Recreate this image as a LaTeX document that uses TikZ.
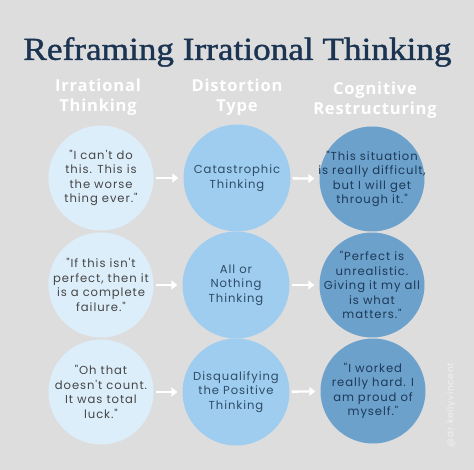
\documentclass[tikz,border=0pt]{standalone}
\usepackage{fontspec}
\setmainfont{Poppins}
\newfontfamily\titlefont[FakeBold=1.2,FakeStretch=1.1]{Liberation Serif}
\newfontfamily\headfont[LetterSpace=5]{Open Sans}
\newfontfamily\bodyfont[LetterSpace=8]{Poppins}
\usetikzlibrary{arrows.meta}
\definecolor{bg}{HTML}{DDDDDD}
\definecolor{titlecol}{HTML}{1B3452}
\definecolor{fillA}{HTML}{DDEEFB}
\definecolor{fillB}{HTML}{9FCDF0}
\definecolor{fillC}{HTML}{6CA1CB}
\definecolor{txtA}{HTML}{454545}
\definecolor{txtB}{HTML}{2E4B66}
\definecolor{txtC}{HTML}{1D3957}
\tikzset{
  blob/.style={circle, minimum size=#1, inner sep=0pt},
  blobA/.style={blob=105pt, fill=fillA},
  blobB/.style={blob=107pt, fill=fillB},
  blobC/.style={blob=105pt, fill=fillC},
  words/.style={align=center, inner sep=0pt, font=\bodyfont\fontsize{11.6}{14.5}\selectfont},
  wA/.style={words, text=txtA},
  wB/.style={words, text=txtB},
  wC/.style={words, text=txtC},
  head/.style={align=center, inner sep=0pt, text=white, font=\headfont\bfseries\fontsize{16.5}{20}\selectfont},
  arr/.style={draw=white, line width=2.4pt, -{Triangle[length=6pt,width=9pt]}, shorten <=2pt, shorten >=5pt},
}
\begin{document}
\begin{tikzpicture}[x=1pt,y=-1pt]
\fill[bg] (0,0) rectangle (474,470);
\useasboundingbox (0,0) rectangle (474,470);
\node[text=titlecol, inner sep=0pt, font=\titlefont\fontsize{32}{32}\selectfont] (title) at (237.5,52) {Reframing Irrational Thinking};
\node[head] (h1) at (98,97) {Irrational\\Thinking};
\node[head] (h2) at (237,97) {Distortion\\Type};
\node[head] (h3) at (375,100) {Cognitive\\Restructuring};
% circles
\node[blobA] (a1) at (101,178) {};
\node[blobB] (b1) at (237,178) {};
\node[blobC] (c1) at (372,179) {};
\node[blobA] (a2) at (101,285) {};
\node[blobB] (b2) at (236,285) {};
\node[blobC] (c2) at (372,285) {};
\node[blobA] (a3) at (101,392) {};
\node[blobB] (b3) at (236,392) {};
\node[blobC] (c3) at (373,391) {};
% texts
\node[wA] (ta1) at (a1) {"I can't do\\this. This is\\the worse\\thing ever."};
\node[wB] (tb1) at (b1) {Catastrophic\\Thinking};
\node[wC] (tc1) at (c1) {"This situation\\is really difficult,\\but I will get\\through it."};
\node[wA] (ta2) at (a2) {"If this isn't\\perfect, then it\\is a complete\\failure."};
\node[wB] (tb2) at (b2) {All or\\Nothing\\Thinking};
\node[wC] (tc2) at (c2) {"Perfect is\\unrealistic.\\Giving it my all\\is what\\matters."};
\node[wA] (ta3) at (a3) {"Oh that\\doesn't count.\\It was total\\luck."};
\node[wB] (tb3) at (b3) {Disqualifying\\the Positive\\Thinking};
\node[wC] (tc3) at (c3) {"I worked\\really hard. I\\am proud of\\myself."};
% arrows
\draw[arr] (a1) -- (b1);
\draw[arr] (b1) -- (c1);
\draw[arr] (a2) -- (b2);
\draw[arr] (b2) -- (c2);
\draw[arr] (a3) -- (b3);
\draw[arr] (b3) -- (c3);
% watermark
\node[rotate=90, text=white, opacity=0.6, inner sep=0pt, font=\bodyfont\fontsize{9}{9}\selectfont] (wm) at (451,405) {@dr.kellyvincent};
\end{tikzpicture}
\end{document}
